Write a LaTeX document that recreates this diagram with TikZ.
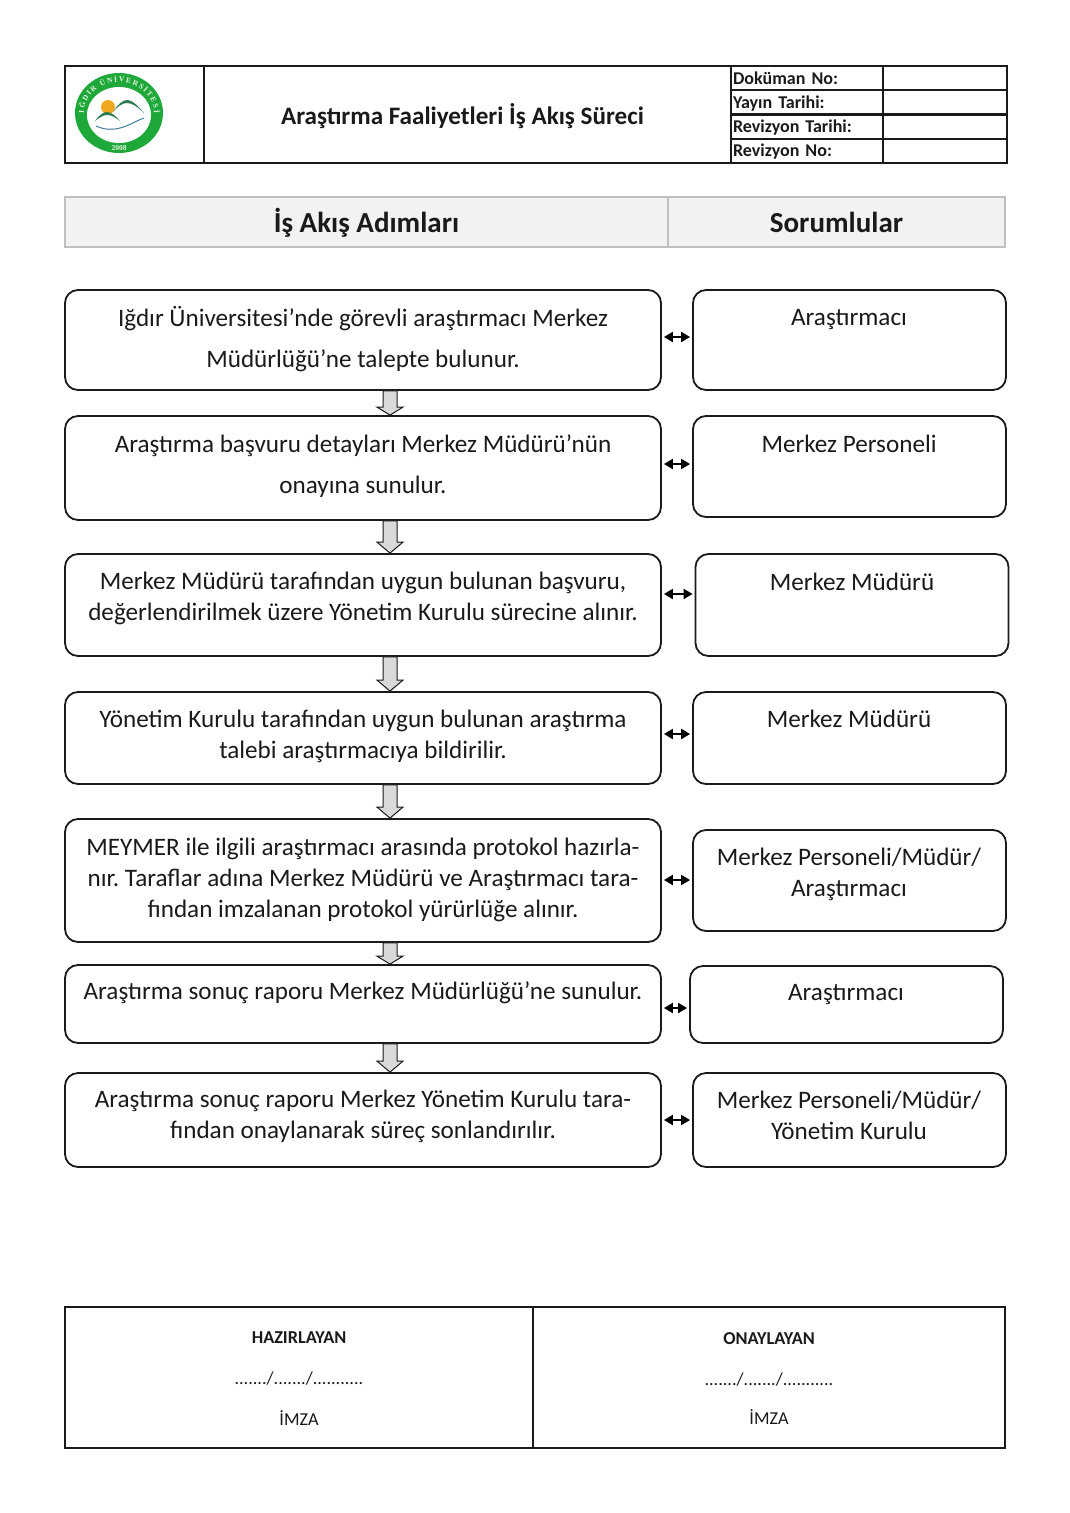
\documentclass[tikz,border=0pt]{standalone}
\usepackage{fontspec}
\usepackage{xcolor}
\setmainfont{Carlito}
\newfontfamily\logofont{Liberation Serif}
\usetikzlibrary{positioning,arrows.meta,calc,decorations.text}
\definecolor{nInk}{HTML}{1A1A1A}
\definecolor{nHead}{HTML}{F2F2F2}
\definecolor{nHeadLine}{HTML}{BFBFBF}
\definecolor{nArrow}{HTML}{D9D9D9}
\definecolor{nGreen}{HTML}{1FA83A}
\definecolor{nHill}{HTML}{2E7D4F}
\definecolor{nSun}{HTML}{F0A81E}
\definecolor{nWave}{HTML}{3F7F9F}
\definecolor{nPale}{HTML}{E4F5E0}
\tikzset{
  stepbox/.style={draw=nInk, line width=1.8pt, rounded corners=13pt, inner sep=0pt, fill=white},
  steptext/.style={text=nInk, font=\fontsize{25.15}{31}\selectfont, align=center, inner sep=0pt},
  headcell/.style={draw=nInk, line width=2.2pt, inner sep=0pt, text=nInk},
  bandcell/.style={draw=nHeadLine, fill=nHead, line width=2pt, inner sep=0pt, text=nInk, text height=20pt, text depth=0pt, font=\fontsize{29}{32}\selectfont\bfseries},
  foottext/.style={text=nInk, inner sep=0pt, font=\fontsize{18.2}{20}\selectfont},
  sidearrow/.style={{Triangle[length=9pt,width=10pt]}-{Triangle[length=9pt,width=10pt]}, line width=2pt, black, shorten <=2pt, shorten >=2pt},
  flowarrow/.style={draw=nInk, fill=nArrow, line width=1pt, line join=miter}
}
\newcommand{\flowstep}[3]{\path let \p1=(#1.south -| ax), \p2=(#2.north -| ax) in
  [flowarrow] (\x1-7pt,\y1) -- (\x1+7pt,\y1) -- (\x1+7pt,\y2+#3) -- (\x1+13pt,\y2+#3) -- (\x1,\y2) -- (\x1-13pt,\y2+#3) -- (\x1-7pt,\y2+#3) -- cycle;}
\begin{document}
\frenchspacing
\begin{tikzpicture}[x=1pt,y=-1pt]
  \useasboundingbox (0,0) rectangle (1070,1513);
  \coordinate (ax) at (390,0);

  \node[headcell, minimum width=139pt, minimum height=97pt] (logocell) at (134.5,114.5) {};
  \node[headcell, minimum width=527pt, minimum height=97pt] (titlecell) at (467.5,114.5) {};
  \node[text=nInk, inner sep=0pt, font=\fontsize{25.1}{30}\selectfont\bfseries] (title) at (462.5,116) {Araştırma Faaliyetleri İş Akış Süreci};
  \foreach \k/\lab in {1/Doküman No:, 2/Yayın Tarihi:, 3/Revizyon Tarihi:, 4/Revizyon No:} {
    \node[headcell, minimum width=152pt, minimum height=24.25pt, text width=148pt, align=left, text height=13pt, text depth=1pt, font=\fontsize{18}{20}\selectfont\bfseries] (meta\k) at (807,{53.9+24.25*\k}) {\lab};
    \node[headcell, minimum width=124pt, minimum height=24.25pt] (val\k) at (945,{53.9+24.25*\k}) {};
  }

  \fill[nGreen] (119,113) ellipse[x radius=44pt, y radius=40pt];
  \fill[white] (119,115) ellipse[x radius=32pt, y radius=28pt];
  \path[postaction={decorate,decoration={text along path, text align={fit to path},
    text={|\logofont\fontsize{7.5}{8}\selectfont\bfseries\color{nPale}|IĞDIR ÜNİVERSİTESİ}}}]
    (119,113) ++(-35pt,0pt) arc[start angle=180, end angle=0, x radius=35pt, y radius=31pt];
  \node[inner sep=0pt, text=nPale, font=\logofont\fontsize{7.5}{8}\selectfont\bfseries] (logoyear) at (119,148) {2008};
  \fill[nSun] (108,107) circle[radius=7pt];
  \fill[nHill] (95,121) .. controls (100,114) and (104,112) .. (107,112) .. controls (111,112) and (116,116) .. (120,121) .. controls (115,117) and (111,115) .. (107,115) .. controls (103,115) and (99,118) .. (95,121) -- cycle;
  \fill[nHill] (113,112) .. controls (118,104) and (123,100) .. (127,100) .. controls (133,100) and (140,108) .. (144,113) .. controls (138,107) and (132,103) .. (127,103) .. controls (122,103) and (117,107) .. (113,112) -- cycle;
  \draw[nWave, line width=1pt] (96,126) .. controls (105,130) and (112,130) .. (120,128) .. controls (128,126) and (136,121) .. (144,118);

  \node[bandcell, minimum width=603pt, minimum height=50pt] (bandsteps) at (366.5,222) {İş Akış Adımları};
  \node[bandcell, minimum width=337pt, minimum height=50pt] (bandresp) at (836.5,222) {Sorumlular};

  \node[stepbox, minimum width=596pt, minimum height=100pt] (a1) at (363,340) {};
  \node[stepbox, minimum width=596pt, minimum height=104pt] (a2) at (363,468) {};
  \node[stepbox, minimum width=596pt, minimum height=102pt] (a3) at (363,605) {};
  \node[stepbox, minimum width=596pt, minimum height=92pt] (a4) at (363,738) {};
  \node[stepbox, minimum width=596pt, minimum height=123pt] (a5) at (363,880.5) {};
  \node[stepbox, minimum width=596pt, minimum height=78pt] (a6) at (363,1004) {};
  \node[stepbox, minimum width=596pt, minimum height=94pt] (a7) at (363,1120) {};

  \node[stepbox, minimum width=313pt, minimum height=100pt] (r1) at (849.5,340) {};
  \node[stepbox, minimum width=313pt, minimum height=101pt] (r2) at (849.5,466.5) {};
  \node[stepbox, minimum width=313pt, minimum height=102pt] (r3) at (852,605) {};
  \node[stepbox, minimum width=313pt, minimum height=92pt] (r4) at (849.5,738) {};
  \node[stepbox, minimum width=313pt, minimum height=101pt] (r5) at (849.5,880.5) {};
  \node[stepbox, minimum width=313pt, minimum height=77pt] (r6) at (846.5,1004.5) {};
  \node[stepbox, minimum width=313pt, minimum height=94pt] (r7) at (849.5,1120) {};

  \node[steptext] (ta1) at (363,339) {Iğdır Üniversitesi’nde görevli araştırmacı Merkez\\[10.5pt]Müdürlüğü’ne talepte bulunur.};
  \node[steptext] (ta2) at (363,466) {Araştırma başvuru detayları Merkez Müdürü’nün\\[10pt]onayına sunulur.};
  \node[steptext] (ta3) at (363,598) {Merkez Müdürü tarafından uygun bulunan başvuru,\\değerlendirilmek üzere Yönetim Kurulu sürecine alınır.};
  \node[steptext] (ta4) at (363,736) {Yönetim Kurulu tarafından uygun bulunan araştırma\\talebi araştırmacıya bildirilir.};
  \node[steptext] (ta5) at (363,879.5) {MEYMER ile ilgili araştırmacı arasında protokol hazırla-\\nır. Taraflar adına Merkez Müdürü ve Araştırmacı tara-\\fından imzalanan protokol yürürlüğe alınır.};
  \node[steptext] (ta6) at (363,993) {Araştırma sonuç raporu Merkez Müdürlüğü’ne sunulur.};
  \node[steptext] (ta7) at (363,1116.5) {Araştırma sonuç raporu Merkez Yönetim Kurulu tara-\\fından onaylanarak süreç sonlandırılır.};

  \node[steptext] (tr1) at (849,320) {Araştırmacı};
  \node[steptext] (tr2) at (849,444) {Merkez Personeli};
  \node[steptext] (tr3) at (852,581.5) {Merkez Müdürü};
  \node[steptext] (tr4) at (849,719) {Merkez Müdürü};
  \node[steptext] (tr5) at (849,874) {Merkez Personeli/Müdür/\\Araştırmacı};
  \node[steptext] (tr6) at (846,995) {Araştırmacı};
  \node[steptext] (tr7) at (849,1115) {Merkez Personeli/Müdür/\\Yönetim Kurulu};

  \flowstep{a1}{a2}{8pt}
  \flowstep{a2}{a3}{11pt}
  \flowstep{a3}{a4}{11pt}
  \flowstep{a4}{a5}{11pt}
  \flowstep{a5}{a6}{8pt}
  \flowstep{a6}{a7}{11pt}

  \foreach \k/\yy in {1/337, 2/464, 3/594, 4/734, 5/880, 6/1008, 7/1120} {
    \draw[sidearrow] (a\k.east |- 0,\yy) -- (r\k.west |- 0,\yy);
  }

  \node[headcell, minimum width=468pt, minimum height=141pt] (prepared) at (299,1377.5) {};
  \node[headcell, minimum width=472pt, minimum height=141pt] (approved) at (769,1377.5) {};
  \node[foottext, font=\fontsize{18.2}{20}\selectfont\bfseries] (prepname) at (299,1338) {HAZIRLAYAN};
  \node[foottext] (prepdate) at (299,1379) {......./......./...........};
  \node[foottext] (prepsign) at (299,1418) {İMZA};
  \node[foottext, font=\fontsize{18.2}{20}\selectfont\bfseries] (apprname) at (769,1339) {ONAYLAYAN};
  \node[foottext] (apprdate) at (769,1380) {......./......./...........};
  \node[foottext] (apprsign) at (769,1417) {İMZA};
\end{tikzpicture}
\end{document}
